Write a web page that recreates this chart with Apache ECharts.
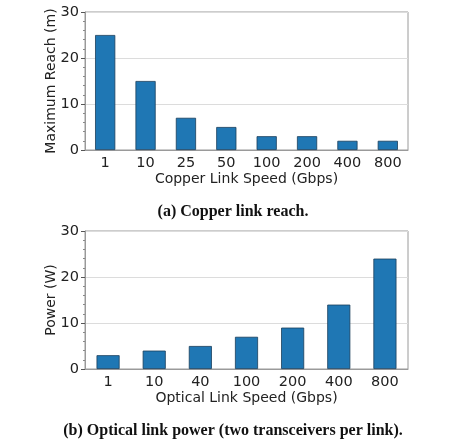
<!DOCTYPE html>
<html>
<head>
<meta charset="utf-8">
<script src="https://cdn.jsdelivr.net/npm/echarts@6/dist/echarts.min.js"></script>
<style>
  html, body { margin: 0; padding: 0; background: #fff; }
  #chart { width: 474px; height: 446px; }
</style>
</head>
<body>
<div id="chart"></div>
<script>
const copperSpeeds = ['1', '10', '25', '50', '100', '200', '400', '800'];
const copperReach = [25, 15, 7, 5, 3, 3, 2, 2];
const opticalSpeeds = ['1', '10', '40', '100', '200', '400', '800'];
const opticalPower = [3, 4, 5, 7, 9, 14, 24];

const font = 'DejaVu Sans';
const barColor = '#1f77b4';
const frameColor = '#9a9a9a';

const xAxisFor = (idx, data, name) => ({
  type: 'category',
  gridIndex: idx,
  data: data,
  name: name,
  nameLocation: 'middle',
  nameGap: 21,
  nameTextStyle: { fontFamily: font, fontSize: 14, color: '#222' },
  axisLine: { lineStyle: { color: frameColor, width: 1 } },
  axisTick: { show: false },
  axisLabel: { fontFamily: font, fontSize: 14.5, color: '#222', margin: 6 },
});

const yAxisFor = (idx, name) => ({
  type: 'value',
  gridIndex: idx,
  min: 0,
  max: 30,
  interval: 10,
  name: name,
  nameLocation: 'middle',
  nameGap: 27,
  nameMoveOverlap: false,
  nameTextStyle: { fontFamily: font, fontSize: 14, color: '#222' },
  axisLine: { show: true, lineStyle: { color: frameColor, width: 1 } },
  axisTick: { show: true, length: 4, lineStyle: { color: '#555' } },
  minorTick: { show: true, splitNumber: 5, length: 2, lineStyle: { color: '#888' } },
  axisLabel: { fontFamily: font, fontSize: 14.5, color: '#222', margin: 6 },
  splitLine: { show: true, lineStyle: { color: '#dcdcdc', width: 1 } },
});

const barSeries = (idx, data) => ({
  type: 'bar',
  xAxisIndex: idx,
  yAxisIndex: idx,
  data: data,
  barWidth: '50%',
  itemStyle: { color: barColor, borderColor: '#1a3f5c', borderWidth: 0.8 },
});

const chart = echarts.init(document.getElementById('chart'));
chart.setOption({
  animation: false,
  grid: [
    { left: 85, top: 12, width: 323, height: 138, show: true, borderColor: frameColor, borderWidth: 1 },
    { left: 85, top: 231, width: 323, height: 138, show: true, borderColor: frameColor, borderWidth: 1 },
  ],
  xAxis: [
    xAxisFor(0, copperSpeeds, 'Copper Link Speed (Gbps)'),
    xAxisFor(1, opticalSpeeds, 'Optical Link Speed (Gbps)'),
  ],
  yAxis: [
    yAxisFor(0, 'Maximum Reach (m)'),
    yAxisFor(1, 'Power (W)'),
  ],
  series: [
    barSeries(0, copperReach),
    barSeries(1, opticalPower),
  ],
  title: [
    {
      text: '(a) Copper link reach.',
      left: 228, top: 199, textAlign: 'center',
      textStyle: { fontFamily: 'Liberation Serif', fontSize: 16, fontWeight: 'bold', color: '#111' },
    },
    {
      text: '(b) Optical link power (two transceivers per link).',
      left: 228, top: 418, textAlign: 'center',
      textStyle: { fontFamily: 'Liberation Serif', fontSize: 16, fontWeight: 'bold', color: '#111' },
    },
  ],
});
</script>
</body>
</html>
